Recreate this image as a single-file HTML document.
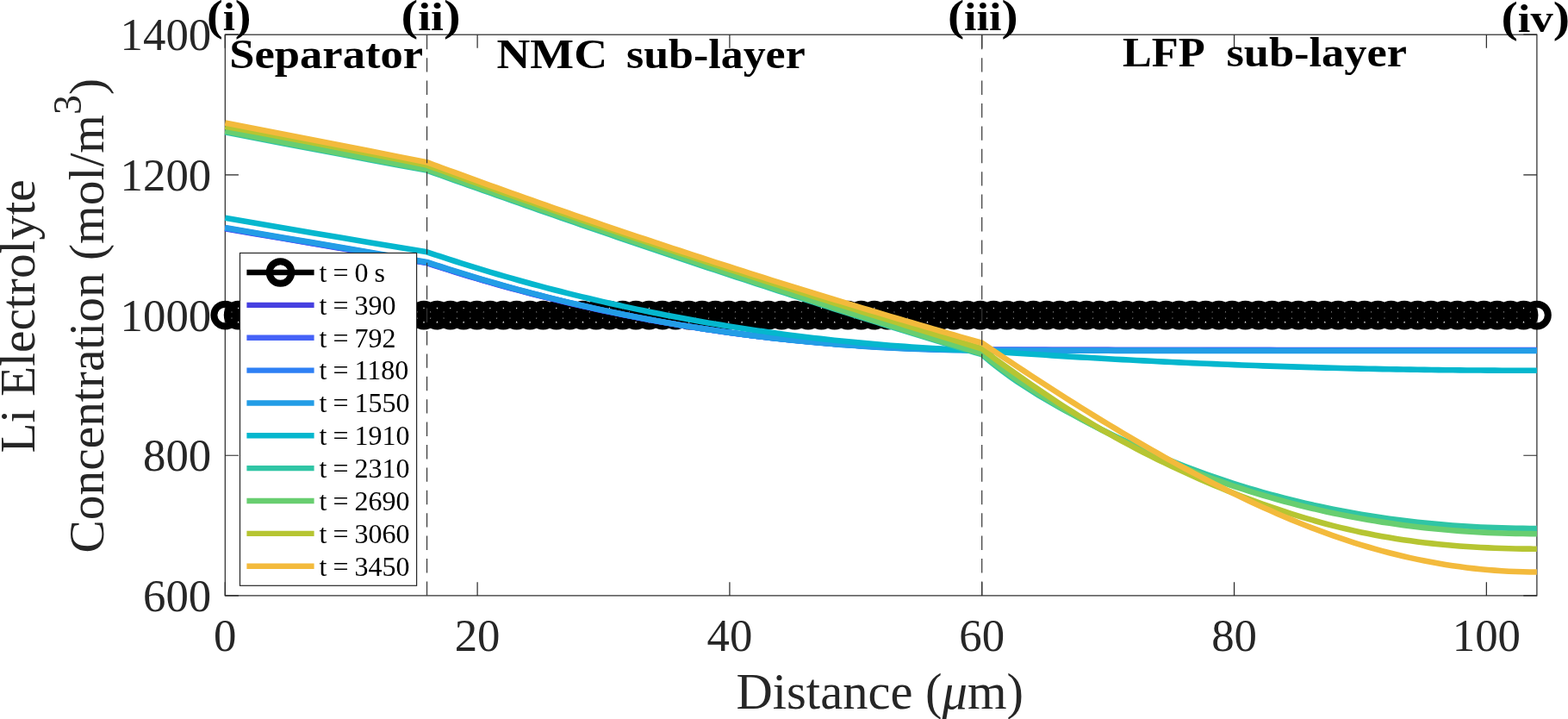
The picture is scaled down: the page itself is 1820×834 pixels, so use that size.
<!DOCTYPE html><html><head><meta charset="utf-8"><title>Li Electrolyte Concentration</title><style>html,body{margin:0;padding:0;background:#fff;}svg{display:block;}text{font-family:"Liberation Serif","Times New Roman",serif;}</style></head><body>
<svg width="1820" height="834" viewBox="0 0 1820 834">
<rect width="1820" height="834" fill="#fff"/>
<rect x="261.30" y="40.20" width="1522.60" height="650.70" fill="none" stroke="#262626" stroke-width="1.2"/>
<path d="M261.30,690.90V675.30M261.30,40.20V55.80M554.11,690.90V675.30M554.11,40.20V55.80M846.92,690.90V675.30M846.92,40.20V55.80M1139.72,690.90V675.30M1139.72,40.20V55.80M1432.53,690.90V675.30M1432.53,40.20V55.80M1725.34,690.90V675.30M1725.34,40.20V55.80M261.30,690.90H276.90M1783.90,690.90H1768.30M261.30,528.23H276.90M1783.90,528.23H1768.30M261.30,365.55H276.90M1783.90,365.55H1768.30M261.30,202.88H276.90M1783.90,202.88H1768.30M261.30,40.20H276.90M1783.90,40.20H1768.30" stroke="#262626" stroke-width="1.2" fill="none"/>
<g>
<line x1="261.30" y1="365.55" x2="1783.90" y2="365.55" stroke="#000" stroke-width="6.6"/>
<g fill="none" stroke="#000" stroke-width="8.0"><circle cx="261.30" cy="365.55" r="12.9"/><circle cx="276.68" cy="365.55" r="12.9"/><circle cx="292.06" cy="365.55" r="12.9"/><circle cx="307.44" cy="365.55" r="12.9"/><circle cx="322.82" cy="365.55" r="12.9"/><circle cx="338.20" cy="365.55" r="12.9"/><circle cx="353.58" cy="365.55" r="12.9"/><circle cx="368.96" cy="365.55" r="12.9"/><circle cx="384.34" cy="365.55" r="12.9"/><circle cx="399.72" cy="365.55" r="12.9"/><circle cx="415.10" cy="365.55" r="12.9"/><circle cx="430.48" cy="365.55" r="12.9"/><circle cx="445.86" cy="365.55" r="12.9"/><circle cx="461.24" cy="365.55" r="12.9"/><circle cx="476.62" cy="365.55" r="12.9"/><circle cx="492.00" cy="365.55" r="12.9"/><circle cx="507.38" cy="365.55" r="12.9"/><circle cx="522.76" cy="365.55" r="12.9"/><circle cx="538.14" cy="365.55" r="12.9"/><circle cx="553.52" cy="365.55" r="12.9"/><circle cx="568.90" cy="365.55" r="12.9"/><circle cx="584.28" cy="365.55" r="12.9"/><circle cx="599.66" cy="365.55" r="12.9"/><circle cx="615.04" cy="365.55" r="12.9"/><circle cx="630.42" cy="365.55" r="12.9"/><circle cx="645.79" cy="365.55" r="12.9"/><circle cx="661.17" cy="365.55" r="12.9"/><circle cx="676.55" cy="365.55" r="12.9"/><circle cx="691.93" cy="365.55" r="12.9"/><circle cx="707.31" cy="365.55" r="12.9"/><circle cx="722.69" cy="365.55" r="12.9"/><circle cx="738.07" cy="365.55" r="12.9"/><circle cx="753.45" cy="365.55" r="12.9"/><circle cx="768.83" cy="365.55" r="12.9"/><circle cx="784.21" cy="365.55" r="12.9"/><circle cx="799.59" cy="365.55" r="12.9"/><circle cx="814.97" cy="365.55" r="12.9"/><circle cx="830.35" cy="365.55" r="12.9"/><circle cx="845.73" cy="365.55" r="12.9"/><circle cx="861.11" cy="365.55" r="12.9"/><circle cx="876.49" cy="365.55" r="12.9"/><circle cx="891.87" cy="365.55" r="12.9"/><circle cx="907.25" cy="365.55" r="12.9"/><circle cx="922.63" cy="365.55" r="12.9"/><circle cx="938.01" cy="365.55" r="12.9"/><circle cx="953.39" cy="365.55" r="12.9"/><circle cx="968.77" cy="365.55" r="12.9"/><circle cx="984.15" cy="365.55" r="12.9"/><circle cx="999.53" cy="365.55" r="12.9"/><circle cx="1014.91" cy="365.55" r="12.9"/><circle cx="1030.29" cy="365.55" r="12.9"/><circle cx="1045.67" cy="365.55" r="12.9"/><circle cx="1061.05" cy="365.55" r="12.9"/><circle cx="1076.43" cy="365.55" r="12.9"/><circle cx="1091.81" cy="365.55" r="12.9"/><circle cx="1107.19" cy="365.55" r="12.9"/><circle cx="1122.57" cy="365.55" r="12.9"/><circle cx="1137.95" cy="365.55" r="12.9"/><circle cx="1153.33" cy="365.55" r="12.9"/><circle cx="1168.71" cy="365.55" r="12.9"/><circle cx="1184.09" cy="365.55" r="12.9"/><circle cx="1199.47" cy="365.55" r="12.9"/><circle cx="1214.85" cy="365.55" r="12.9"/><circle cx="1230.23" cy="365.55" r="12.9"/><circle cx="1245.61" cy="365.55" r="12.9"/><circle cx="1260.99" cy="365.55" r="12.9"/><circle cx="1276.37" cy="365.55" r="12.9"/><circle cx="1291.75" cy="365.55" r="12.9"/><circle cx="1307.13" cy="365.55" r="12.9"/><circle cx="1322.51" cy="365.55" r="12.9"/><circle cx="1337.89" cy="365.55" r="12.9"/><circle cx="1353.27" cy="365.55" r="12.9"/><circle cx="1368.65" cy="365.55" r="12.9"/><circle cx="1384.03" cy="365.55" r="12.9"/><circle cx="1399.41" cy="365.55" r="12.9"/><circle cx="1414.78" cy="365.55" r="12.9"/><circle cx="1430.16" cy="365.55" r="12.9"/><circle cx="1445.54" cy="365.55" r="12.9"/><circle cx="1460.92" cy="365.55" r="12.9"/><circle cx="1476.30" cy="365.55" r="12.9"/><circle cx="1491.68" cy="365.55" r="12.9"/><circle cx="1507.06" cy="365.55" r="12.9"/><circle cx="1522.44" cy="365.55" r="12.9"/><circle cx="1537.82" cy="365.55" r="12.9"/><circle cx="1553.20" cy="365.55" r="12.9"/><circle cx="1568.58" cy="365.55" r="12.9"/><circle cx="1583.96" cy="365.55" r="12.9"/><circle cx="1599.34" cy="365.55" r="12.9"/><circle cx="1614.72" cy="365.55" r="12.9"/><circle cx="1630.10" cy="365.55" r="12.9"/><circle cx="1645.48" cy="365.55" r="12.9"/><circle cx="1660.86" cy="365.55" r="12.9"/><circle cx="1676.24" cy="365.55" r="12.9"/><circle cx="1691.62" cy="365.55" r="12.9"/><circle cx="1707.00" cy="365.55" r="12.9"/><circle cx="1722.38" cy="365.55" r="12.9"/><circle cx="1737.76" cy="365.55" r="12.9"/><circle cx="1753.14" cy="365.55" r="12.9"/><circle cx="1768.52" cy="365.55" r="12.9"/><circle cx="1783.90" cy="365.55" r="12.9"/></g>
</g>
<g fill="none" stroke-width="6.6" stroke-linejoin="round" stroke-linecap="butt">
<path d="M261.30,265.20 L294.76,270.89 L328.23,276.58 L361.69,282.28 L395.15,287.98 L428.62,293.68 L462.08,299.39 L495.55,305.10 L503.70,307.76 L511.85,310.38 L520.01,312.97 L528.16,315.51 L536.32,318.02 L544.47,320.49 L552.63,322.92 L560.78,325.31 L568.93,327.66 L577.09,329.97 L585.24,332.25 L593.40,334.48 L601.55,336.68 L609.70,338.84 L617.86,340.97 L626.01,343.05 L634.17,345.10 L642.32,347.11 L650.47,349.09 L658.63,351.02 L666.78,352.92 L674.94,354.79 L683.09,356.62 L691.25,358.41 L699.40,360.16 L707.55,361.88 L715.71,363.57 L723.86,365.21 L732.02,366.83 L740.17,368.40 L748.32,369.95 L756.48,371.45 L764.63,372.93 L772.79,374.36 L780.94,375.77 L789.10,377.14 L797.25,378.47 L805.40,379.77 L813.56,381.04 L821.71,382.27 L829.87,383.47 L838.02,384.64 L846.17,385.77 L854.33,386.87 L862.48,387.93 L870.64,388.97 L878.79,389.97 L886.94,390.94 L895.10,391.87 L903.25,392.78 L911.41,393.65 L919.56,394.49 L927.72,395.30 L935.87,396.08 L944.02,396.82 L952.18,397.53 L960.33,398.22 L968.49,398.87 L976.64,399.49 L984.79,400.08 L992.95,400.64 L1001.10,401.17 L1009.26,401.67 L1017.41,402.14 L1025.57,402.58 L1033.72,402.99 L1041.87,403.37 L1050.03,403.73 L1058.18,404.05 L1066.34,404.34 L1074.49,404.61 L1082.64,404.84 L1090.80,405.05 L1098.95,405.23 L1107.11,405.38 L1115.26,405.50 L1123.41,405.59 L1131.57,405.66 L1139.72,405.70 L1147.88,405.72 L1156.03,405.73 L1164.19,405.74 L1172.34,405.76 L1180.49,405.77 L1188.65,405.78 L1196.80,405.80 L1204.96,405.81 L1213.11,405.82 L1221.26,405.83 L1229.42,405.84 L1237.57,405.85 L1245.73,405.87 L1253.88,405.88 L1262.04,405.89 L1270.19,405.90 L1278.34,405.91 L1286.50,405.92 L1294.65,405.93 L1302.81,405.93 L1310.96,405.94 L1319.11,405.95 L1327.27,405.96 L1335.42,405.97 L1343.58,405.98 L1351.73,405.98 L1359.88,405.99 L1368.04,406.00 L1376.19,406.01 L1384.35,406.01 L1392.50,406.02 L1400.66,406.03 L1408.81,406.03 L1416.96,406.04 L1425.12,406.04 L1433.27,406.05 L1441.43,406.05 L1449.58,406.06 L1457.73,406.06 L1465.89,406.07 L1474.04,406.07 L1482.20,406.08 L1490.35,406.08 L1498.51,406.08 L1506.66,406.09 L1514.81,406.09 L1522.97,406.09 L1531.12,406.10 L1539.28,406.10 L1547.43,406.10 L1555.58,406.11 L1563.74,406.11 L1571.89,406.11 L1580.05,406.11 L1588.20,406.11 L1596.35,406.11 L1604.51,406.12 L1612.66,406.12 L1620.82,406.12 L1628.97,406.12 L1637.13,406.12 L1645.28,406.12 L1653.43,406.12 L1661.59,406.12 L1669.74,406.12 L1677.90,406.12 L1686.05,406.12 L1694.20,406.12 L1702.36,406.12 L1710.51,406.12 L1718.67,406.12 L1726.82,406.12 L1734.98,406.12 L1743.13,406.12 L1751.28,406.12 L1759.44,406.12 L1767.59,406.12 L1775.75,406.11 L1783.90,406.11" stroke="#4640E0"/>
<path d="M261.30,264.80 L294.76,270.49 L328.23,276.18 L361.69,281.88 L395.15,287.58 L428.62,293.28 L462.08,298.99 L495.55,304.70 L503.70,307.36 L511.85,310.00 L520.01,312.59 L528.16,315.14 L536.32,317.65 L544.47,320.13 L552.63,322.56 L560.78,324.96 L568.93,327.32 L577.09,329.64 L585.24,331.92 L593.40,334.16 L601.55,336.36 L609.70,338.53 L617.86,340.66 L626.01,342.75 L634.17,344.81 L642.32,346.83 L650.47,348.81 L658.63,350.75 L666.78,352.66 L674.94,354.53 L683.09,356.36 L691.25,358.16 L699.40,359.92 L707.55,361.65 L715.71,363.34 L723.86,364.99 L732.02,366.61 L740.17,368.19 L748.32,369.74 L756.48,371.26 L764.63,372.73 L772.79,374.18 L780.94,375.59 L789.10,376.96 L797.25,378.30 L805.40,379.61 L813.56,380.88 L821.71,382.12 L829.87,383.33 L838.02,384.50 L846.17,385.64 L854.33,386.75 L862.48,387.82 L870.64,388.86 L878.79,389.87 L886.94,390.84 L895.10,391.78 L903.25,392.69 L911.41,393.57 L919.56,394.42 L927.72,395.23 L935.87,396.02 L944.02,396.77 L952.18,397.49 L960.33,398.18 L968.49,398.84 L976.64,399.47 L984.79,400.06 L992.95,400.63 L1001.10,401.17 L1009.26,401.67 L1017.41,402.15 L1025.57,402.59 L1033.72,403.01 L1041.87,403.40 L1050.03,403.76 L1058.18,404.08 L1066.34,404.38 L1074.49,404.66 L1082.64,404.90 L1090.80,405.11 L1098.95,405.30 L1107.11,405.45 L1115.26,405.58 L1123.41,405.68 L1131.57,405.75 L1139.72,405.80 L1147.88,405.82 L1156.03,405.83 L1164.19,405.84 L1172.34,405.86 L1180.49,405.87 L1188.65,405.88 L1196.80,405.90 L1204.96,405.91 L1213.11,405.92 L1221.26,405.93 L1229.42,405.94 L1237.57,405.95 L1245.73,405.97 L1253.88,405.98 L1262.04,405.99 L1270.19,406.00 L1278.34,406.01 L1286.50,406.02 L1294.65,406.03 L1302.81,406.03 L1310.96,406.04 L1319.11,406.05 L1327.27,406.06 L1335.42,406.07 L1343.58,406.08 L1351.73,406.08 L1359.88,406.09 L1368.04,406.10 L1376.19,406.11 L1384.35,406.11 L1392.50,406.12 L1400.66,406.13 L1408.81,406.13 L1416.96,406.14 L1425.12,406.14 L1433.27,406.15 L1441.43,406.15 L1449.58,406.16 L1457.73,406.16 L1465.89,406.17 L1474.04,406.17 L1482.20,406.18 L1490.35,406.18 L1498.51,406.18 L1506.66,406.19 L1514.81,406.19 L1522.97,406.19 L1531.12,406.20 L1539.28,406.20 L1547.43,406.20 L1555.58,406.21 L1563.74,406.21 L1571.89,406.21 L1580.05,406.21 L1588.20,406.21 L1596.35,406.21 L1604.51,406.22 L1612.66,406.22 L1620.82,406.22 L1628.97,406.22 L1637.13,406.22 L1645.28,406.22 L1653.43,406.22 L1661.59,406.22 L1669.74,406.22 L1677.90,406.22 L1686.05,406.22 L1694.20,406.22 L1702.36,406.22 L1710.51,406.22 L1718.67,406.22 L1726.82,406.22 L1734.98,406.22 L1743.13,406.22 L1751.28,406.22 L1759.44,406.22 L1767.59,406.22 L1775.75,406.21 L1783.90,406.21" stroke="#4562F8"/>
<path d="M261.30,264.50 L294.76,270.19 L328.23,275.88 L361.69,281.58 L395.15,287.28 L428.62,292.98 L462.08,298.69 L495.55,304.40 L503.70,307.07 L511.85,309.71 L520.01,312.31 L528.16,314.87 L536.32,317.39 L544.47,319.87 L552.63,322.31 L560.78,324.72 L568.93,327.08 L577.09,329.41 L585.24,331.70 L593.40,333.95 L601.55,336.16 L609.70,338.34 L617.86,340.48 L626.01,342.57 L634.17,344.64 L642.32,346.66 L650.47,348.65 L658.63,350.60 L666.78,352.52 L674.94,354.39 L683.09,356.24 L691.25,358.04 L699.40,359.81 L707.55,361.54 L715.71,363.24 L723.86,364.90 L732.02,366.53 L740.17,368.12 L748.32,369.68 L756.48,371.20 L764.63,372.69 L772.79,374.14 L780.94,375.55 L789.10,376.94 L797.25,378.29 L805.40,379.60 L813.56,380.88 L821.71,382.13 L829.87,383.34 L838.02,384.52 L846.17,385.67 L854.33,386.78 L862.48,387.86 L870.64,388.91 L878.79,389.92 L886.94,390.91 L895.10,391.86 L903.25,392.77 L911.41,393.66 L919.56,394.51 L927.72,395.34 L935.87,396.13 L944.02,396.89 L952.18,397.61 L960.33,398.31 L968.49,398.98 L976.64,399.61 L984.79,400.22 L992.95,400.79 L1001.10,401.34 L1009.26,401.85 L1017.41,402.33 L1025.57,402.79 L1033.72,403.21 L1041.87,403.61 L1050.03,403.97 L1058.18,404.31 L1066.34,404.62 L1074.49,404.89 L1082.64,405.14 L1090.80,405.36 L1098.95,405.56 L1107.11,405.72 L1115.26,405.86 L1123.41,405.97 L1131.57,406.05 L1139.72,406.10 L1147.88,406.12 L1156.03,406.13 L1164.19,406.14 L1172.34,406.16 L1180.49,406.17 L1188.65,406.18 L1196.80,406.20 L1204.96,406.21 L1213.11,406.22 L1221.26,406.23 L1229.42,406.24 L1237.57,406.25 L1245.73,406.27 L1253.88,406.28 L1262.04,406.29 L1270.19,406.30 L1278.34,406.31 L1286.50,406.32 L1294.65,406.33 L1302.81,406.33 L1310.96,406.34 L1319.11,406.35 L1327.27,406.36 L1335.42,406.37 L1343.58,406.38 L1351.73,406.38 L1359.88,406.39 L1368.04,406.40 L1376.19,406.41 L1384.35,406.41 L1392.50,406.42 L1400.66,406.43 L1408.81,406.43 L1416.96,406.44 L1425.12,406.44 L1433.27,406.45 L1441.43,406.45 L1449.58,406.46 L1457.73,406.46 L1465.89,406.47 L1474.04,406.47 L1482.20,406.48 L1490.35,406.48 L1498.51,406.48 L1506.66,406.49 L1514.81,406.49 L1522.97,406.49 L1531.12,406.50 L1539.28,406.50 L1547.43,406.50 L1555.58,406.51 L1563.74,406.51 L1571.89,406.51 L1580.05,406.51 L1588.20,406.51 L1596.35,406.51 L1604.51,406.52 L1612.66,406.52 L1620.82,406.52 L1628.97,406.52 L1637.13,406.52 L1645.28,406.52 L1653.43,406.52 L1661.59,406.52 L1669.74,406.52 L1677.90,406.52 L1686.05,406.52 L1694.20,406.52 L1702.36,406.52 L1710.51,406.52 L1718.67,406.52 L1726.82,406.52 L1734.98,406.52 L1743.13,406.52 L1751.28,406.52 L1759.44,406.52 L1767.59,406.52 L1775.75,406.51 L1783.90,406.51" stroke="#2E80F5"/>
<path d="M261.30,264.00 L294.76,269.69 L328.23,275.38 L361.69,281.08 L395.15,286.78 L428.62,292.48 L462.08,298.19 L495.55,303.90 L503.70,306.58 L511.85,309.24 L520.01,311.85 L528.16,314.42 L536.32,316.95 L544.47,319.45 L552.63,321.90 L560.78,324.32 L568.93,326.70 L577.09,329.04 L585.24,331.34 L593.40,333.60 L601.55,335.83 L609.70,338.02 L617.86,340.17 L626.01,342.28 L634.17,344.35 L642.32,346.39 L650.47,348.39 L658.63,350.36 L666.78,352.28 L674.94,354.17 L683.09,356.03 L691.25,357.85 L699.40,359.63 L707.55,361.37 L715.71,363.08 L723.86,364.76 L732.02,366.40 L740.17,368.00 L748.32,369.57 L756.48,371.10 L764.63,372.60 L772.79,374.07 L780.94,375.50 L789.10,376.89 L797.25,378.25 L805.40,379.58 L813.56,380.87 L821.71,382.13 L829.87,383.36 L838.02,384.55 L846.17,385.71 L854.33,386.84 L862.48,387.93 L870.64,388.99 L878.79,390.02 L886.94,391.01 L895.10,391.98 L903.25,392.91 L911.41,393.81 L919.56,394.67 L927.72,395.51 L935.87,396.31 L944.02,397.08 L952.18,397.82 L960.33,398.53 L968.49,399.21 L976.64,399.86 L984.79,400.48 L992.95,401.06 L1001.10,401.62 L1009.26,402.15 L1017.41,402.64 L1025.57,403.11 L1033.72,403.55 L1041.87,403.96 L1050.03,404.33 L1058.18,404.68 L1066.34,405.00 L1074.49,405.29 L1082.64,405.56 L1090.80,405.79 L1098.95,405.99 L1107.11,406.17 L1115.26,406.32 L1123.41,406.44 L1131.57,406.53 L1139.72,406.60 L1147.88,406.62 L1156.03,406.63 L1164.19,406.64 L1172.34,406.66 L1180.49,406.67 L1188.65,406.68 L1196.80,406.70 L1204.96,406.71 L1213.11,406.72 L1221.26,406.73 L1229.42,406.74 L1237.57,406.75 L1245.73,406.77 L1253.88,406.78 L1262.04,406.79 L1270.19,406.80 L1278.34,406.81 L1286.50,406.82 L1294.65,406.83 L1302.81,406.83 L1310.96,406.84 L1319.11,406.85 L1327.27,406.86 L1335.42,406.87 L1343.58,406.88 L1351.73,406.88 L1359.88,406.89 L1368.04,406.90 L1376.19,406.91 L1384.35,406.91 L1392.50,406.92 L1400.66,406.93 L1408.81,406.93 L1416.96,406.94 L1425.12,406.94 L1433.27,406.95 L1441.43,406.95 L1449.58,406.96 L1457.73,406.96 L1465.89,406.97 L1474.04,406.97 L1482.20,406.98 L1490.35,406.98 L1498.51,406.98 L1506.66,406.99 L1514.81,406.99 L1522.97,406.99 L1531.12,407.00 L1539.28,407.00 L1547.43,407.00 L1555.58,407.01 L1563.74,407.01 L1571.89,407.01 L1580.05,407.01 L1588.20,407.01 L1596.35,407.01 L1604.51,407.02 L1612.66,407.02 L1620.82,407.02 L1628.97,407.02 L1637.13,407.02 L1645.28,407.02 L1653.43,407.02 L1661.59,407.02 L1669.74,407.02 L1677.90,407.02 L1686.05,407.02 L1694.20,407.02 L1702.36,407.02 L1710.51,407.02 L1718.67,407.02 L1726.82,407.02 L1734.98,407.02 L1743.13,407.02 L1751.28,407.02 L1759.44,407.02 L1767.59,407.02 L1775.75,407.01 L1783.90,407.01" stroke="#239DE6"/>
<path d="M261.30,252.80 L294.76,258.53 L328.23,264.24 L361.69,269.91 L395.15,275.55 L428.62,281.16 L462.08,286.75 L495.55,292.30 L503.70,295.03 L511.85,297.72 L520.01,300.38 L528.16,303.00 L536.32,305.58 L544.47,308.13 L552.63,310.64 L560.78,313.12 L568.93,315.56 L577.09,317.97 L585.24,320.34 L593.40,322.67 L601.55,324.97 L609.70,327.24 L617.86,329.47 L626.01,331.66 L634.17,333.82 L642.32,335.95 L650.47,338.05 L658.63,340.10 L666.78,342.13 L674.94,344.12 L683.09,346.08 L691.25,348.01 L699.40,349.90 L707.55,351.76 L715.71,353.58 L723.86,355.38 L732.02,357.14 L740.17,358.86 L748.32,360.56 L756.48,362.22 L764.63,363.85 L772.79,365.45 L780.94,367.02 L789.10,368.56 L797.25,370.06 L805.40,371.54 L813.56,372.98 L821.71,374.39 L829.87,375.77 L838.02,377.12 L846.17,378.44 L854.33,379.73 L862.48,380.99 L870.64,382.21 L878.79,383.41 L886.94,384.58 L895.10,385.72 L903.25,386.83 L911.41,387.91 L919.56,388.96 L927.72,389.98 L935.87,390.97 L944.02,391.94 L952.18,392.87 L960.33,393.78 L968.49,394.66 L976.64,395.51 L984.79,396.33 L992.95,397.12 L1001.10,397.89 L1009.26,398.63 L1017.41,399.34 L1025.57,400.02 L1033.72,400.68 L1041.87,401.31 L1050.03,401.91 L1058.18,402.48 L1066.34,403.03 L1074.49,403.56 L1082.64,404.05 L1090.80,404.52 L1098.95,404.97 L1107.11,405.39 L1115.26,405.78 L1123.41,406.15 L1131.57,406.49 L1139.72,406.80 L1147.88,407.40 L1156.03,407.98 L1164.19,408.55 L1172.34,409.12 L1180.49,409.68 L1188.65,410.23 L1196.80,410.77 L1204.96,411.30 L1213.11,411.83 L1221.26,412.35 L1229.42,412.86 L1237.57,413.37 L1245.73,413.86 L1253.88,414.35 L1262.04,414.83 L1270.19,415.30 L1278.34,415.77 L1286.50,416.22 L1294.65,416.67 L1302.81,417.11 L1310.96,417.55 L1319.11,417.97 L1327.27,418.39 L1335.42,418.80 L1343.58,419.20 L1351.73,419.60 L1359.88,419.99 L1368.04,420.37 L1376.19,420.74 L1384.35,421.10 L1392.50,421.46 L1400.66,421.81 L1408.81,422.15 L1416.96,422.48 L1425.12,422.81 L1433.27,423.13 L1441.43,423.44 L1449.58,423.74 L1457.73,424.04 L1465.89,424.33 L1474.04,424.61 L1482.20,424.88 L1490.35,425.15 L1498.51,425.41 L1506.66,425.66 L1514.81,425.90 L1522.97,426.14 L1531.12,426.36 L1539.28,426.58 L1547.43,426.80 L1555.58,427.00 L1563.74,427.20 L1571.89,427.39 L1580.05,427.58 L1588.20,427.75 L1596.35,427.92 L1604.51,428.08 L1612.66,428.23 L1620.82,428.38 L1628.97,428.52 L1637.13,428.65 L1645.28,428.77 L1653.43,428.89 L1661.59,429.00 L1669.74,429.10 L1677.90,429.20 L1686.05,429.28 L1694.20,429.36 L1702.36,429.44 L1710.51,429.50 L1718.67,429.56 L1726.82,429.61 L1734.98,429.65 L1743.13,429.69 L1751.28,429.72 L1759.44,429.74 L1767.59,429.75 L1775.75,429.76 L1783.90,429.76" stroke="#05B7CE"/>
<path d="M261.30,153.30 L294.76,159.75 L328.23,166.16 L361.69,172.53 L395.15,178.86 L428.62,185.15 L462.08,191.39 L495.55,197.60 L503.70,200.52 L511.85,203.44 L520.01,206.36 L528.16,209.27 L536.32,212.17 L544.47,215.08 L552.63,217.97 L560.78,220.86 L568.93,223.75 L577.09,226.63 L585.24,229.50 L593.40,232.37 L601.55,235.24 L609.70,238.10 L617.86,240.95 L626.01,243.80 L634.17,246.65 L642.32,249.48 L650.47,252.32 L658.63,255.15 L666.78,257.97 L674.94,260.78 L683.09,263.60 L691.25,266.40 L699.40,269.20 L707.55,272.00 L715.71,274.78 L723.86,277.57 L732.02,280.34 L740.17,283.12 L748.32,285.88 L756.48,288.64 L764.63,291.40 L772.79,294.14 L780.94,296.89 L789.10,299.62 L797.25,302.35 L805.40,305.08 L813.56,307.80 L821.71,310.51 L829.87,313.21 L838.02,315.91 L846.17,318.61 L854.33,321.30 L862.48,323.98 L870.64,326.65 L878.79,329.32 L886.94,331.98 L895.10,334.64 L903.25,337.29 L911.41,339.93 L919.56,342.57 L927.72,345.20 L935.87,347.82 L944.02,350.44 L952.18,353.05 L960.33,355.65 L968.49,358.25 L976.64,360.84 L984.79,363.43 L992.95,366.00 L1001.10,368.57 L1009.26,371.14 L1017.41,373.69 L1025.57,376.24 L1033.72,378.78 L1041.87,381.32 L1050.03,383.85 L1058.18,386.37 L1066.34,388.89 L1074.49,391.39 L1082.64,393.89 L1090.80,396.39 L1098.95,398.87 L1107.11,401.35 L1115.26,403.82 L1123.41,406.29 L1131.57,408.74 L1139.72,411.19 L1147.88,418.10 L1156.03,424.64 L1164.19,430.86 L1172.34,436.79 L1180.49,442.45 L1188.65,447.87 L1196.80,453.08 L1204.96,458.09 L1213.11,462.94 L1221.26,467.66 L1229.42,472.26 L1237.57,476.78 L1245.73,481.21 L1253.88,485.57 L1262.04,489.84 L1270.19,494.03 L1278.34,498.14 L1286.50,502.17 L1294.65,506.12 L1302.81,509.99 L1310.96,513.78 L1319.11,517.49 L1327.27,521.12 L1335.42,524.67 L1343.58,528.15 L1351.73,531.54 L1359.88,534.86 L1368.04,538.10 L1376.19,541.26 L1384.35,544.35 L1392.50,547.36 L1400.66,550.30 L1408.81,553.15 L1416.96,555.94 L1425.12,558.64 L1433.27,561.28 L1441.43,563.84 L1449.58,566.33 L1457.73,568.74 L1465.89,571.08 L1474.04,573.36 L1482.20,575.56 L1490.35,577.69 L1498.51,579.75 L1506.66,581.74 L1514.81,583.67 L1522.97,585.53 L1531.12,587.32 L1539.28,589.04 L1547.43,590.70 L1555.58,592.30 L1563.74,593.82 L1571.89,595.29 L1580.05,596.69 L1588.20,598.03 L1596.35,599.31 L1604.51,600.53 L1612.66,601.68 L1620.82,602.78 L1628.97,603.81 L1637.13,604.79 L1645.28,605.71 L1653.43,606.57 L1661.59,607.37 L1669.74,608.12 L1677.90,608.81 L1686.05,609.44 L1694.20,610.02 L1702.36,610.55 L1710.51,611.02 L1718.67,611.44 L1726.82,611.81 L1734.98,612.13 L1743.13,612.39 L1751.28,612.61 L1759.44,612.77 L1767.59,612.89 L1775.75,612.95 L1783.90,612.97" stroke="#30C5A5"/>
<path d="M261.30,152.10 L294.76,158.53 L328.23,164.94 L361.69,171.32 L395.15,177.68 L428.62,184.01 L462.08,190.32 L495.55,196.60 L503.70,199.48 L511.85,202.35 L520.01,205.23 L528.16,208.10 L536.32,210.97 L544.47,213.84 L552.63,216.70 L560.78,219.57 L568.93,222.42 L577.09,225.28 L585.24,228.13 L593.40,230.98 L601.55,233.83 L609.70,236.67 L617.86,239.51 L626.01,242.35 L634.17,245.18 L642.32,248.01 L650.47,250.83 L658.63,253.65 L666.78,256.47 L674.94,259.28 L683.09,262.09 L691.25,264.89 L699.40,267.69 L707.55,270.49 L715.71,273.28 L723.86,276.07 L732.02,278.85 L740.17,281.62 L748.32,284.40 L756.48,287.16 L764.63,289.93 L772.79,292.68 L780.94,295.43 L789.10,298.18 L797.25,300.92 L805.40,303.66 L813.56,306.39 L821.71,309.11 L829.87,311.83 L838.02,314.54 L846.17,317.25 L854.33,319.95 L862.48,322.64 L870.64,325.33 L878.79,328.01 L886.94,330.69 L895.10,333.36 L903.25,336.02 L911.41,338.68 L919.56,341.33 L927.72,343.97 L935.87,346.60 L944.02,349.23 L952.18,351.85 L960.33,354.47 L968.49,357.08 L976.64,359.67 L984.79,362.27 L992.95,364.85 L1001.10,367.43 L1009.26,370.00 L1017.41,372.56 L1025.57,375.11 L1033.72,377.66 L1041.87,380.20 L1050.03,382.73 L1058.18,385.25 L1066.34,387.76 L1074.49,390.27 L1082.64,392.76 L1090.80,395.25 L1098.95,397.73 L1107.11,400.20 L1115.26,402.66 L1123.41,405.11 L1131.57,407.56 L1139.72,409.99 L1147.88,416.52 L1156.03,422.80 L1164.19,428.87 L1172.34,434.74 L1180.49,440.42 L1188.65,445.93 L1196.80,451.27 L1204.96,456.48 L1213.11,461.54 L1221.26,466.49 L1229.42,471.34 L1237.57,476.08 L1245.73,480.74 L1253.88,485.31 L1262.04,489.78 L1270.19,494.17 L1278.34,498.47 L1286.50,502.68 L1294.65,506.80 L1302.81,510.84 L1310.96,514.79 L1319.11,518.65 L1327.27,522.44 L1335.42,526.13 L1343.58,529.75 L1351.73,533.28 L1359.88,536.73 L1368.04,540.11 L1376.19,543.40 L1384.35,546.61 L1392.50,549.74 L1400.66,552.80 L1408.81,555.78 L1416.96,558.68 L1425.12,561.51 L1433.27,564.26 L1441.43,566.94 L1449.58,569.54 L1457.73,572.07 L1465.89,574.53 L1474.04,576.91 L1482.20,579.22 L1490.35,581.46 L1498.51,583.63 L1506.66,585.73 L1514.81,587.76 L1522.97,589.72 L1531.12,591.61 L1539.28,593.43 L1547.43,595.19 L1555.58,596.88 L1563.74,598.50 L1571.89,600.05 L1580.05,601.55 L1588.20,602.97 L1596.35,604.33 L1604.51,605.63 L1612.66,606.86 L1620.82,608.04 L1628.97,609.15 L1637.13,610.20 L1645.28,611.18 L1653.43,612.11 L1661.59,612.98 L1669.74,613.79 L1677.90,614.54 L1686.05,615.23 L1694.20,615.86 L1702.36,616.44 L1710.51,616.96 L1718.67,617.42 L1726.82,617.83 L1734.98,618.18 L1743.13,618.48 L1751.28,618.73 L1759.44,618.92 L1767.59,619.06 L1775.75,619.15 L1783.90,619.18" stroke="#68CE70"/>
<path d="M261.30,146.80 L294.76,152.86 L328.23,159.03 L361.69,165.31 L395.15,171.71 L428.62,178.23 L462.08,184.86 L495.55,191.60 L503.70,194.56 L511.85,197.52 L520.01,200.47 L528.16,203.41 L536.32,206.34 L544.47,209.27 L552.63,212.19 L560.78,215.10 L568.93,218.00 L577.09,220.89 L585.24,223.78 L593.40,226.65 L601.55,229.52 L609.70,232.38 L617.86,235.24 L626.01,238.08 L634.17,240.92 L642.32,243.76 L650.47,246.58 L658.63,249.40 L666.78,252.21 L674.94,255.01 L683.09,257.80 L691.25,260.59 L699.40,263.37 L707.55,266.14 L715.71,268.91 L723.86,271.67 L732.02,274.42 L740.17,277.17 L748.32,279.91 L756.48,282.64 L764.63,285.37 L772.79,288.08 L780.94,290.80 L789.10,293.50 L797.25,296.20 L805.40,298.90 L813.56,301.58 L821.71,304.26 L829.87,306.94 L838.02,309.60 L846.17,312.27 L854.33,314.92 L862.48,317.57 L870.64,320.22 L878.79,322.85 L886.94,325.49 L895.10,328.11 L903.25,330.73 L911.41,333.35 L919.56,335.96 L927.72,338.56 L935.87,341.16 L944.02,343.75 L952.18,346.34 L960.33,348.92 L968.49,351.50 L976.64,354.07 L984.79,356.64 L992.95,359.20 L1001.10,361.76 L1009.26,364.31 L1017.41,366.85 L1025.57,369.40 L1033.72,371.93 L1041.87,374.46 L1050.03,376.99 L1058.18,379.51 L1066.34,382.03 L1074.49,384.55 L1082.64,387.05 L1090.80,389.56 L1098.95,392.06 L1107.11,394.55 L1115.26,397.05 L1123.41,399.53 L1131.57,402.02 L1139.72,404.50 L1147.88,410.96 L1156.03,417.10 L1164.19,423.01 L1172.34,428.78 L1180.49,434.50 L1188.65,440.20 L1196.80,445.87 L1204.96,451.48 L1213.11,457.04 L1221.26,462.51 L1229.42,467.90 L1237.57,473.18 L1245.73,478.35 L1253.88,483.43 L1262.04,488.40 L1270.19,493.27 L1278.34,498.04 L1286.50,502.72 L1294.65,507.30 L1302.81,511.79 L1310.96,516.19 L1319.11,520.51 L1327.27,524.73 L1335.42,528.87 L1343.58,532.93 L1351.73,536.90 L1359.88,540.80 L1368.04,544.62 L1376.19,548.36 L1384.35,552.03 L1392.50,555.63 L1400.66,559.16 L1408.81,562.61 L1416.96,566.00 L1425.12,569.32 L1433.27,572.56 L1441.43,575.73 L1449.58,578.83 L1457.73,581.85 L1465.89,584.80 L1474.04,587.67 L1482.20,590.46 L1490.35,593.17 L1498.51,595.80 L1506.66,598.35 L1514.81,600.81 L1522.97,603.19 L1531.12,605.49 L1539.28,607.69 L1547.43,609.82 L1555.58,611.85 L1563.74,613.79 L1571.89,615.64 L1580.05,617.40 L1588.20,619.08 L1596.35,620.66 L1604.51,622.16 L1612.66,623.57 L1620.82,624.90 L1628.97,626.15 L1637.13,627.32 L1645.28,628.41 L1653.43,629.43 L1661.59,630.37 L1669.74,631.23 L1677.90,632.03 L1686.05,632.76 L1694.20,633.42 L1702.36,634.02 L1710.51,634.55 L1718.67,635.01 L1726.82,635.42 L1734.98,635.77 L1743.13,636.06 L1751.28,636.29 L1759.44,636.47 L1767.59,636.60 L1775.75,636.67 L1783.90,636.70" stroke="#B6C532"/>
<path d="M261.30,142.60 L294.76,149.06 L328.23,155.54 L361.69,162.04 L395.15,168.55 L428.62,175.08 L462.08,181.63 L495.55,188.20 L503.70,191.22 L511.85,194.23 L520.01,197.23 L528.16,200.22 L536.32,203.21 L544.47,206.18 L552.63,209.14 L560.78,212.09 L568.93,215.03 L577.09,217.96 L585.24,220.88 L593.40,223.80 L601.55,226.70 L609.70,229.59 L617.86,232.47 L626.01,235.34 L634.17,238.20 L642.32,241.06 L650.47,243.90 L658.63,246.73 L666.78,249.55 L674.94,252.37 L683.09,255.17 L691.25,257.96 L699.40,260.75 L707.55,263.52 L715.71,266.29 L723.86,269.04 L732.02,271.79 L740.17,274.53 L748.32,277.25 L756.48,279.97 L764.63,282.68 L772.79,285.38 L780.94,288.07 L789.10,290.75 L797.25,293.42 L805.40,296.09 L813.56,298.74 L821.71,301.38 L829.87,304.02 L838.02,306.65 L846.17,309.26 L854.33,311.87 L862.48,314.47 L870.64,317.06 L878.79,319.64 L886.94,322.22 L895.10,324.78 L903.25,327.34 L911.41,329.88 L919.56,332.42 L927.72,334.95 L935.87,337.47 L944.02,339.98 L952.18,342.49 L960.33,344.98 L968.49,347.47 L976.64,349.95 L984.79,352.42 L992.95,354.88 L1001.10,357.33 L1009.26,359.78 L1017.41,362.21 L1025.57,364.64 L1033.72,367.06 L1041.87,369.47 L1050.03,371.88 L1058.18,374.27 L1066.34,376.66 L1074.49,379.04 L1082.64,381.41 L1090.80,383.77 L1098.95,386.13 L1107.11,388.48 L1115.26,390.81 L1123.41,393.15 L1131.57,395.47 L1139.72,397.79 L1147.88,403.29 L1156.03,408.76 L1164.19,414.20 L1172.34,419.61 L1180.49,425.01 L1188.65,430.37 L1196.80,435.71 L1204.96,441.02 L1213.11,446.30 L1221.26,451.55 L1229.42,456.77 L1237.57,461.95 L1245.73,467.10 L1253.88,472.21 L1262.04,477.29 L1270.19,482.32 L1278.34,487.32 L1286.50,492.28 L1294.65,497.20 L1302.81,502.07 L1310.96,506.90 L1319.11,511.68 L1327.27,516.41 L1335.42,521.10 L1343.58,525.74 L1351.73,530.32 L1359.88,534.86 L1368.04,539.34 L1376.19,543.76 L1384.35,548.13 L1392.50,552.44 L1400.66,556.70 L1408.81,560.89 L1416.96,565.03 L1425.12,569.10 L1433.27,573.10 L1441.43,577.04 L1449.58,580.91 L1457.73,584.71 L1465.89,588.44 L1474.04,592.09 L1482.20,595.67 L1490.35,599.17 L1498.51,602.60 L1506.66,605.94 L1514.81,609.20 L1522.97,612.37 L1531.12,615.46 L1539.28,618.46 L1547.43,621.37 L1555.58,624.19 L1563.74,626.92 L1571.89,629.55 L1580.05,632.08 L1588.20,634.52 L1596.35,636.87 L1604.51,639.11 L1612.66,641.26 L1620.82,643.31 L1628.97,645.26 L1637.13,647.12 L1645.28,648.87 L1653.43,650.53 L1661.59,652.09 L1669.74,653.55 L1677.90,654.91 L1686.05,656.18 L1694.20,657.34 L1702.36,658.40 L1710.51,659.36 L1718.67,660.23 L1726.82,660.99 L1734.98,661.65 L1743.13,662.21 L1751.28,662.67 L1759.44,663.03 L1767.59,663.28 L1775.75,663.43 L1783.90,663.49" stroke="#F3BA3C"/>
</g>
<line x1="495.55" y1="40.80" x2="495.55" y2="690.90" stroke="#333" stroke-width="1.2" stroke-dasharray="16.4 10"/>
<line x1="1139.72" y1="40.80" x2="1139.72" y2="690.90" stroke="#333" stroke-width="1.2" stroke-dasharray="16.4 10"/>
<g fill="#262626" font-size="52.8"><text x="261.30" y="755.30" text-anchor="middle">0</text><text x="554.11" y="755.30" text-anchor="middle">20</text><text x="846.92" y="755.30" text-anchor="middle">40</text><text x="1139.72" y="755.30" text-anchor="middle">60</text><text x="1432.53" y="755.30" text-anchor="middle">80</text><text x="1725.34" y="755.30" text-anchor="middle">100</text><text x="245.20" y="708.90" text-anchor="end">600</text><text x="245.20" y="546.23" text-anchor="end">800</text><text x="245.20" y="383.55" text-anchor="end">1000</text><text x="245.20" y="220.88" text-anchor="end">1200</text><text x="245.20" y="58.20" text-anchor="end">1400</text></g>
<text x="1021.30" y="821.90" font-size="58.6" fill="#262626" text-anchor="middle">Distance (<tspan font-style="italic">&#956;</tspan>m)</text>
<g transform="translate(39.5,366.9) rotate(-90)"><text x="0" y="0" font-size="57.4" fill="#262626" text-anchor="middle">Li Electrolyte</text></g>
<g transform="translate(120.4,366.2) rotate(-90)"><text x="0" y="0" font-size="57.4" fill="#262626" text-anchor="middle">Concentration (mol/m<tspan font-size="46" dy="-26">3</tspan><tspan dy="26">)</tspan></text></g>
<text x="240.00" y="34.80" font-weight="bold" fill="#000" textLength="51.6" lengthAdjust="spacingAndGlyphs"><tspan font-size="51.5">(</tspan><tspan font-size="46.5">i</tspan><tspan font-size="51.5">)</tspan></text>
<text x="465.60" y="34.80" font-weight="bold" fill="#000" textLength="69.0" lengthAdjust="spacingAndGlyphs"><tspan font-size="51.5">(</tspan><tspan font-size="46.5">ii</tspan><tspan font-size="51.5">)</tspan></text>
<text x="1099.90" y="34.80" font-weight="bold" fill="#000" textLength="81.7" lengthAdjust="spacingAndGlyphs"><tspan font-size="51.5">(</tspan><tspan font-size="46.5">iii</tspan><tspan font-size="51.5">)</tspan></text>
<text x="1742.50" y="36.50" font-weight="bold" fill="#000" textLength="79.5" lengthAdjust="spacingAndGlyphs"><tspan font-size="51.5">(</tspan><tspan font-size="46.5">iv</tspan><tspan font-size="51.5">)</tspan></text>
<text x="266.30" y="78.90" font-size="48" font-weight="bold" fill="#000" textLength="224.8" lengthAdjust="spacingAndGlyphs">Separator</text>
<text x="576.50" y="78.90" font-size="48" font-weight="bold" fill="#000" textLength="128.5" lengthAdjust="spacingAndGlyphs">NMC</text>
<text x="727.00" y="78.90" font-size="48" font-weight="bold" fill="#000" textLength="207.7" lengthAdjust="spacingAndGlyphs">sub-layer</text>
<text x="1303.00" y="77.20" font-size="48" font-weight="bold" fill="#000" textLength="95.7" lengthAdjust="spacingAndGlyphs">LFP</text>
<text x="1423.50" y="77.20" font-size="48" font-weight="bold" fill="#000" textLength="209.4" lengthAdjust="spacingAndGlyphs">sub-layer</text>
<g><rect x="278.50" y="293.50" width="205.10" height="385.80" fill="#fff" stroke="#262626" stroke-width="1.2"/><line x1="286.4" y1="316.00" x2="364.6" y2="316.00" stroke="#000" stroke-width="6.4"/><circle cx="325.5" cy="316.00" r="12.8" fill="none" stroke="#000" stroke-width="8.0"/><text x="370.5" y="326.80" font-size="32" fill="#000" word-spacing="-1">t = 0 s</text><line x1="286.4" y1="353.86" x2="364.6" y2="353.86" stroke="#4640E0" stroke-width="6.4"/><text x="370.5" y="364.66" font-size="32" fill="#000" word-spacing="-1">t = 390</text><line x1="286.4" y1="391.72" x2="364.6" y2="391.72" stroke="#4562F8" stroke-width="6.4"/><text x="370.5" y="402.52" font-size="32" fill="#000" word-spacing="-1">t = 792</text><line x1="286.4" y1="429.58" x2="364.6" y2="429.58" stroke="#2E80F5" stroke-width="6.4"/><text x="370.5" y="440.38" font-size="32" fill="#000" word-spacing="-1">t = 1180</text><line x1="286.4" y1="467.44" x2="364.6" y2="467.44" stroke="#239DE6" stroke-width="6.4"/><text x="370.5" y="478.24" font-size="32" fill="#000" word-spacing="-1">t = 1550</text><line x1="286.4" y1="505.30" x2="364.6" y2="505.30" stroke="#05B7CE" stroke-width="6.4"/><text x="370.5" y="516.10" font-size="32" fill="#000" word-spacing="-1">t = 1910</text><line x1="286.4" y1="543.16" x2="364.6" y2="543.16" stroke="#30C5A5" stroke-width="6.4"/><text x="370.5" y="553.96" font-size="32" fill="#000" word-spacing="-1">t = 2310</text><line x1="286.4" y1="581.02" x2="364.6" y2="581.02" stroke="#68CE70" stroke-width="6.4"/><text x="370.5" y="591.82" font-size="32" fill="#000" word-spacing="-1">t = 2690</text><line x1="286.4" y1="618.88" x2="364.6" y2="618.88" stroke="#B6C532" stroke-width="6.4"/><text x="370.5" y="629.68" font-size="32" fill="#000" word-spacing="-1">t = 3060</text><line x1="286.4" y1="656.74" x2="364.6" y2="656.74" stroke="#F3BA3C" stroke-width="6.4"/><text x="370.5" y="667.54" font-size="32" fill="#000" word-spacing="-1">t = 3450</text></g>
</svg></body></html>
